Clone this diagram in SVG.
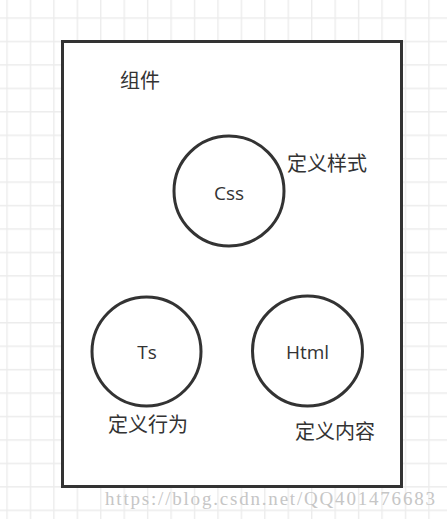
<svg xmlns="http://www.w3.org/2000/svg" width="447" height="519" viewBox="0 0 447 519">
  <defs>
    <pattern id="grid" patternUnits="userSpaceOnUse" x="6.3" y="17.3" width="23.44" height="23.44">
      <path d="M0.7 0V23.44M0 0.7H23.44" fill="none" stroke="#ececec" stroke-width="1.4"/>
    </pattern>
    <style>
      .shape { fill: #ffffff; stroke: #333333; stroke-width: 3; }
      .zh { font-family: "Noto Sans CJK SC", "Noto Sans", sans-serif; font-size: 20px; fill: #333333; }
      .lat { font-family: "Open Sans", "Noto Sans", sans-serif; font-size: 19px; fill: #333333; text-anchor: middle; }
      .wm { font-family: "Liberation Serif", "DejaVu Serif", serif; font-size: 19px; fill: #c6c6c6; }
    </style>
  </defs>
  <rect x="0" y="0" width="447" height="519" fill="#ffffff"/>
  <rect x="0" y="0" width="447" height="519" fill="url(#grid)"/>

  <g id="component">
    <rect class="shape" x="62.5" y="41.5" width="339" height="445"/>
    <text class="zh" x="120" y="88">组件</text>
  </g>

  <g id="connectors"/>

  <g id="css">
    <circle class="shape" cx="229" cy="191" r="55"/>
    <text class="lat" x="229" y="200">Css</text>
    <text class="zh" x="287" y="171">定义样式</text>
  </g>

  <g id="ts">
    <circle class="shape" cx="146.5" cy="351.5" r="54.5"/>
    <text class="lat" x="147" y="359">Ts</text>
    <text class="zh" x="108" y="432">定义行为</text>
  </g>

  <g id="html">
    <circle class="shape" cx="307.5" cy="351" r="55"/>
    <text class="lat" x="307.5" y="359">Html</text>
    <text class="zh" x="295" y="439">定义内容</text>
  </g>

  <text class="wm" x="105" y="505" textLength="330" lengthAdjust="spacing">https://blog.csdn.net/QQ401476683</text>
</svg>
